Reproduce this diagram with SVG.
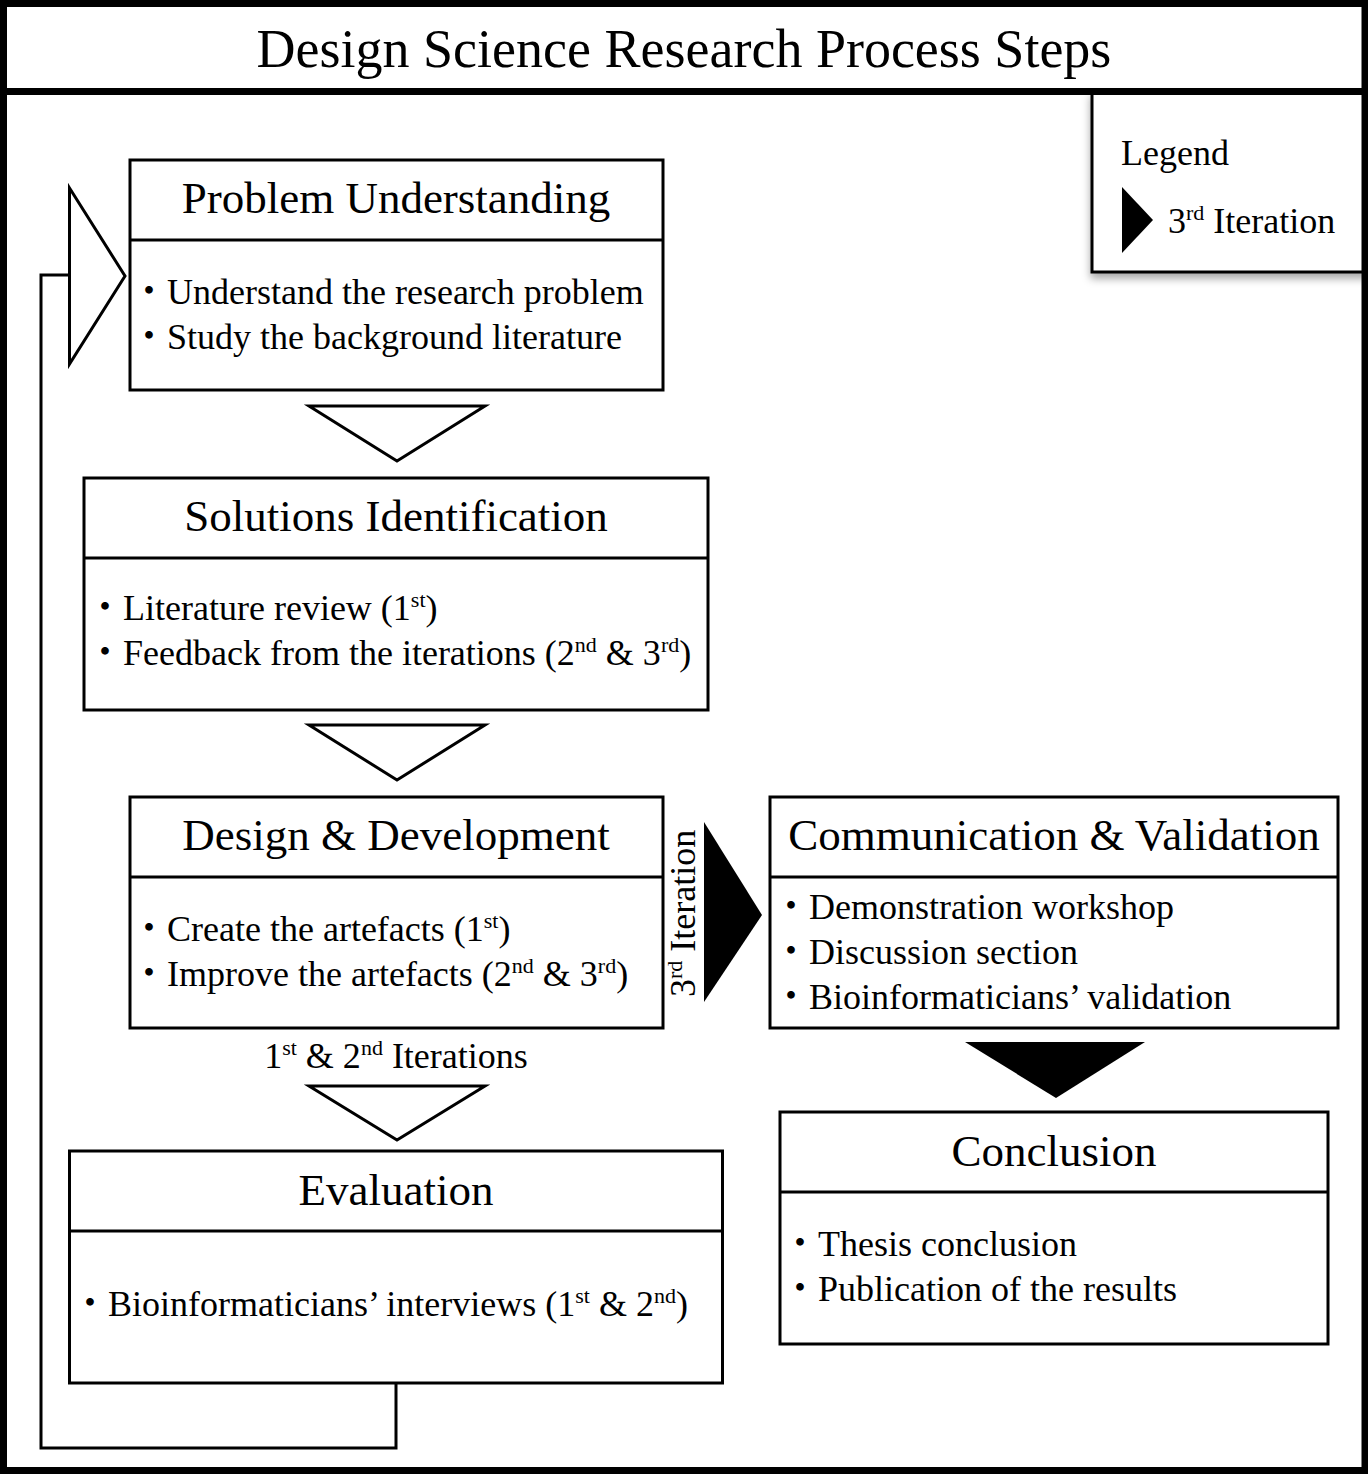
<svg xmlns="http://www.w3.org/2000/svg" width="1368" height="1476" viewBox="0 0 1368 1476">
<defs>
<style>
text { font-family: "Liberation Serif", "Times New Roman", "Noto Sans CJK JP", serif; fill: #000; }
.title { font-size: 54px; text-anchor: middle; }
.hdr { font-size: 45px; text-anchor: middle; }
.txt { font-size: 36px; }
.mid { text-anchor: middle; }
.sup { font-size: 22px; }
.box { fill: #fff; stroke: #000; stroke-width: 3; }
.sep { stroke: #000; stroke-width: 3; }
.conn { fill: none; stroke: #000; stroke-width: 3; }
.open { fill: #fff; stroke: #000; stroke-width: 3; stroke-linejoin: miter; }
.solid { fill: #000; stroke: none; }
.frame { fill: none; stroke: #000; stroke-width: 7; }
</style>
<filter id="shadow" x="-10%" y="-10%" width="130%" height="130%">
<feDropShadow dx="0" dy="5" stdDeviation="4" flood-color="#000" flood-opacity="0.35"/>
</filter>
</defs>
<rect x="0" y="0" width="1368" height="1476" fill="#fff"/>

<g id="title">
<text class="title" x="684" y="67">Design Science Research Process Steps</text>
</g>

<g id="legend">
<rect x="1092" y="92" width="276" height="180" fill="#fff" stroke="#000" stroke-width="3" filter="url(#shadow)"/>
<text class="txt" x="1121" y="165">Legend</text>
<polygon class="solid" points="1122,187 1153,220 1122,253"/>
<text class="txt" x="1168" y="233">3<tspan class="sup" dy="-13">rd</tspan><tspan dy="13"> Iteration</tspan></text>
</g>

<g id="connectors">
<path class="conn" d="M396,1383 V1448 H41 V275 H70"/>
<polygon class="open" points="69.5,188 125,276 69.5,364"/>
<polygon class="open" points="309,406 485,406 397,461"/>
<polygon class="open" points="309,725 485,725 397,780"/>
<polygon class="open" points="309,1086 485,1086 397,1140"/>
<polygon class="solid" points="704,822 762,915 704,1002"/>
<polygon class="solid" points="965,1042 1145,1042 1056,1098"/>
<text class="txt mid" x="396" y="1068">1<tspan class="sup" dy="-13">st</tspan><tspan dy="13"> &amp; 2</tspan><tspan class="sup" dy="-13">nd</tspan><tspan dy="13"> Iterations</tspan></text>
<text class="txt" transform="translate(695,997) rotate(-90)">3<tspan class="sup" dy="-13">rd</tspan><tspan dy="13"> Iteration</tspan></text>
</g>

<g id="problem-understanding">
<rect class="box" x="130" y="160" width="533" height="230"/>
<line class="sep" x1="130" y1="240" x2="663" y2="240"/>
<text class="hdr" x="396" y="213">Problem Understanding</text>
<text class="txt" x="131" y="304">・Understand the research problem</text>
<text class="txt" x="131" y="349">・Study the background literature</text>
</g>

<g id="solutions-identification">
<rect class="box" x="84" y="478" width="624" height="232"/>
<line class="sep" x1="84" y1="558" x2="708" y2="558"/>
<text class="hdr" x="396" y="531">Solutions Identification</text>
<text class="txt" x="87" y="620">・Literature review (1<tspan class="sup" dy="-13">st</tspan><tspan dy="13">)</tspan></text>
<text class="txt" x="87" y="665">・Feedback from the iterations (2<tspan class="sup" dy="-13">nd</tspan><tspan dy="13"> &amp; 3</tspan><tspan class="sup" dy="-13">rd</tspan><tspan dy="13">)</tspan></text>
</g>

<g id="design-development">
<rect class="box" x="130" y="797" width="533" height="231"/>
<line class="sep" x1="130" y1="877" x2="663" y2="877"/>
<text class="hdr" x="396" y="850">Design &amp; Development</text>
<text class="txt" x="131" y="941">・Create the artefacts (1<tspan class="sup" dy="-13">st</tspan><tspan dy="13">)</tspan></text>
<text class="txt" x="131" y="986">・Improve the artefacts (2<tspan class="sup" dy="-13">nd</tspan><tspan dy="13"> &amp; 3</tspan><tspan class="sup" dy="-13">rd</tspan><tspan dy="13">)</tspan></text>
</g>

<g id="communication-validation">
<rect class="box" x="770" y="797" width="568" height="231"/>
<line class="sep" x1="770" y1="877" x2="1338" y2="877"/>
<text class="hdr" x="1054" y="850">Communication &amp; Validation</text>
<text class="txt" x="773" y="919">・Demonstration workshop</text>
<text class="txt" x="773" y="964">・Discussion section</text>
<text class="txt" x="773" y="1009">・Bioinformaticians’ validation</text>
</g>

<g id="evaluation">
<rect class="box" x="69.5" y="1151" width="653" height="232"/>
<line class="sep" x1="69.5" y1="1231" x2="722.5" y2="1231"/>
<text class="hdr" x="396" y="1205">Evaluation</text>
<text class="txt" x="72" y="1316">・Bioinformaticians’ interviews (1<tspan class="sup" dy="-13">st</tspan><tspan dy="13"> &amp; 2</tspan><tspan class="sup" dy="-13">nd</tspan><tspan dy="13">)</tspan></text>
</g>

<g id="conclusion">
<rect class="box" x="780" y="1112" width="548" height="232"/>
<line class="sep" x1="780" y1="1192" x2="1328" y2="1192"/>
<text class="hdr" x="1054" y="1166">Conclusion</text>
<text class="txt" x="782" y="1256">・Thesis conclusion</text>
<text class="txt" x="782" y="1301">・Publication of the results</text>
</g>

<g id="frame">
<rect class="frame" x="3.5" y="3.5" width="1361.5" height="1467"/>
<line x1="0" y1="91.5" x2="1368" y2="91.5" stroke="#000" stroke-width="7"/>
</g>
</svg>
